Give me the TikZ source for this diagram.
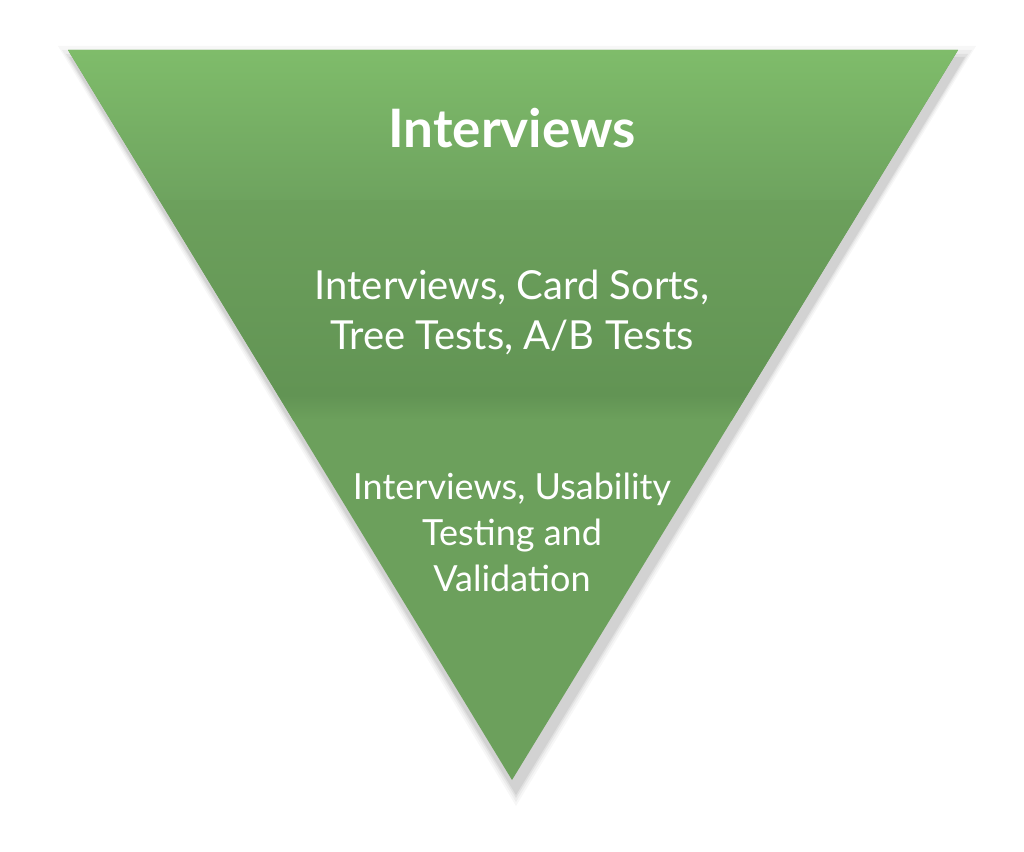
\documentclass[tikz,border=0pt]{standalone}
\usepackage{fontspec}
\setmainfont{Lato}
\definecolor{gtop}{RGB}{128,190,107}
\definecolor{gmid}{RGB}{110,163,95}
\definecolor{gbase}{RGB}{108,160,92}
\definecolor{gdark}{RGB}{98,148,84}
\begin{document}
\begin{tikzpicture}[x=1pt,y=-1pt,
  lbl/.style={text=white,align=center,font=\fontsize{40}{50}\selectfont}]
\useasboundingbox (0,0) rectangle (1024,851);
\fill[white] (0,0) rectangle (1024,851);
\foreach \i/\o in {14/0.03,10/0.04,6/0.05,3/0.06}{
  \fill[black,opacity=\o] (68-\i+4,50-\i+10) -- (958+\i+4,50-\i+10) -- (512+4,780+\i+12) -- cycle;}
\coordinate (tl) at (68,50); \coordinate (tr) at (958,50); \coordinate (ap) at (512,780);
\begin{scope}
\clip (tl) -- (tr) -- (ap) -- cycle;
\fill[gbase] (60,40) rectangle (960,790);
\shade[top color=gtop,bottom color=gmid] (60,40) rectangle (960,200);
\shade[top color=gbase,bottom color=gdark] (60,200) rectangle (960,395);
\shade[top color=gdark,bottom color=gbase] (60,395) rectangle (960,420);
\end{scope}
\node[lbl,font=\fontsize{53}{58}\selectfont\bfseries] (t1) at (512,128) {Interviews};
\node[lbl] (t2) at (512,312) {Interviews, Card Sorts,\\Tree Tests, A/B Tests};
\node[lbl,font=\fontsize{36}{46}\selectfont] (t3) at (512,532) {Interviews, Usability\\Testing and\\Validation};
\end{tikzpicture}
\end{document}
